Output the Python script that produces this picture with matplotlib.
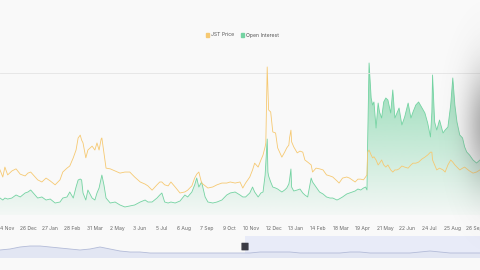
import numpy as np
import pandas as pd
import matplotlib.pyplot as plt
from matplotlib.patches import Patch, FancyBboxPatch

plt.rcParams['font.family'] = ['Inter', 'DejaVu Sans']

# days after the first point, JST price (USD) and open interest (M)
start = '2023-11-16'
day = [0, 4, 7, 11, 17, 23, 29, 36, 40, 44, 49, 54, 60, 66, 72, 79, 86, 90, 96, 100,
       105, 109, 112, 115, 117, 119, 123, 126, 132, 136, 139, 142, 145, 146, 149, 152, 158, 165, 172, 179,
       186, 193, 201, 208, 212, 218, 225, 229, 232, 236, 241, 245, 251, 258, 265, 269, 275, 279, 282, 285,
       289, 294, 298, 305, 311, 318, 325, 330, 337, 344, 348, 352, 358, 362, 365, 370, 374, 377, 380, 381,
       383, 384, 385, 388, 391, 395, 398, 404, 408, 411, 414, 415, 417, 418, 421, 426, 430, 434, 437, 441,
       446, 448, 453, 458, 463, 468, 473, 477, 483, 486, 491, 497, 501, 509, 513, 517, 521, 524, 526, 527,
       529, 532, 534, 536, 539, 542, 544, 547, 550, 553, 556, 560, 563, 566, 569, 572, 576, 580, 585, 589,
       592, 596, 600, 605, 609, 613, 617, 619, 620, 623, 626, 630, 635, 638, 642, 646, 649, 652, 655, 659,
       663, 666, 669, 673, 678, 683, 688]

price = [0.0227, 0.0207, 0.0235, 0.0213, 0.0224, 0.0230, 0.0215, 0.0210, 0.0218, 0.0221,
         0.0210, 0.0199, 0.0193, 0.0204, 0.0196, 0.0185, 0.0199, 0.0221, 0.0232, 0.0238,
         0.0261, 0.0283, 0.0317, 0.0325, 0.0311, 0.0303, 0.0261, 0.0283, 0.0294, 0.0283,
         0.0303, 0.0283, 0.0314, 0.0317, 0.0275, 0.0232, 0.0230, 0.0224, 0.0218, 0.0221,
         0.0221, 0.0207, 0.0193, 0.0187, 0.0182, 0.0170, 0.0185, 0.0193, 0.0193, 0.0185,
         0.0182, 0.0193, 0.0179, 0.0162, 0.0165, 0.0170, 0.0182, 0.0204, 0.0215, 0.0221,
         0.0190, 0.0182, 0.0176, 0.0179, 0.0185, 0.0190, 0.0190, 0.0193, 0.0190, 0.0193,
         0.0176, 0.0190, 0.0207, 0.0227, 0.0246, 0.0235, 0.0255, 0.0269, 0.0292, 0.0303,
         0.0517, 0.0452, 0.0396, 0.0390, 0.0334, 0.0331, 0.0289, 0.0263, 0.0277, 0.0289,
         0.0297, 0.0317, 0.0339, 0.0306, 0.0292, 0.0275, 0.0280, 0.0277, 0.0255, 0.0249,
         0.0241, 0.0221, 0.0232, 0.0230, 0.0227, 0.0213, 0.0210, 0.0207, 0.0196, 0.0190,
         0.0204, 0.0207, 0.0204, 0.0193, 0.0201, 0.0201, 0.0199, 0.0207, 0.0213, 0.0277,
         0.0283, 0.0269, 0.0261, 0.0264, 0.0255, 0.0241, 0.0246, 0.0255, 0.0241, 0.0235,
         0.0241, 0.0227, 0.0221, 0.0227, 0.0227, 0.0230, 0.0238, 0.0235, 0.0232, 0.0241,
         0.0246, 0.0246, 0.0249, 0.0258, 0.0263, 0.0269, 0.0277, 0.0277, 0.0255, 0.0241,
         0.0227, 0.0232, 0.0227, 0.0221, 0.0241, 0.0255, 0.0249, 0.0241, 0.0235, 0.0227,
         0.0232, 0.0235, 0.0230, 0.0224, 0.0218, 0.0221, 0.0227]

oi = [2.39, 2.11, 2.39, 2.25, 2.39, 2.82, 2.54, 3.10, 3.24, 3.52,
      2.96, 2.39, 2.54, 2.11, 2.25, 1.69, 1.83, 2.39, 2.54, 3.24,
      2.39, 3.94, 4.93, 5.07, 4.93, 3.10, 2.11, 3.52, 2.39, 2.11,
      3.10, 3.80, 5.21, 5.63, 4.23, 2.39, 1.69, 1.83, 1.41, 1.13,
      1.27, 1.41, 1.83, 2.11, 1.83, 1.83, 2.39, 2.82, 3.10, 1.83,
      1.69, 1.83, 1.69, 1.97, 2.82, 2.54, 3.24, 4.23, 5.21, 3.94,
      4.65, 2.54, 1.83, 1.69, 1.83, 2.11, 2.82, 3.10, 3.24, 2.82,
      2.54, 2.54, 3.10, 3.94, 3.24, 2.54, 3.10, 3.24, 5.63, 7.32,
      10.70, 6.06, 5.49, 4.65, 3.94, 3.80, 3.66, 3.24, 3.52, 3.80,
      4.37, 4.93, 6.48, 3.94, 3.38, 3.52, 3.66, 3.10, 2.82, 2.54,
      5.21, 4.65, 3.94, 3.24, 2.96, 2.54, 2.39, 2.39, 2.11, 2.25,
      2.54, 2.96, 3.10, 3.38, 3.66, 3.52, 3.80, 3.94, 3.52, 10.56,
      21.41, 16.48, 15.49, 15.92, 12.25, 15.77, 14.51, 13.66, 15.92, 16.48,
      16.20, 14.37, 17.61, 13.66, 14.37, 15.07, 12.68, 13.80, 15.77, 13.66,
      14.51, 15.49, 15.92, 15.07, 14.37, 12.96, 10.99, 14.51, 19.72, 13.10,
      11.97, 13.38, 11.55, 11.97, 12.39, 15.49, 19.30, 15.49, 13.10, 11.27,
      10.85, 9.58, 8.87, 8.45, 7.75, 7.32, 7.75]

tick_dates = ['2023-11-24', '2023-12-26', '2024-01-27', '2024-02-28', '2024-03-31', '2024-05-02',
              '2024-06-03', '2024-07-05', '2024-08-06', '2024-09-07', '2024-10-09', '2024-11-10',
              '2024-12-12', '2025-01-13', '2025-02-14', '2025-03-18', '2025-04-19', '2025-05-21',
              '2025-06-22', '2025-07-24', '2025-08-25', '2025-09-26']
tick_labels = ['24 Nov', '26 Dec', '27 Jan', '28 Feb', '31 Mar', '2 May', '3 Jun', '5 Jul', '6 Aug',
               '7 Sep', '9 Oct', '10 Nov', '12 Dec', '13 Jan', '14 Feb', '18 Mar', '19 Apr', '21 May',
               '22 Jun', '24 Jul', '25 Aug', '26 Sep']

# overview strip (data zoom)
overview = [8, 9, 11, 12, 12, 11, 10, 9, 8, 9, 11, 9, 7, 6, 6, 5, 5, 5, 5, 5, 5, 5, 5, 5, 5,
            5, 6, 6, 6, 6, 5, 5, 5, 5, 5, 6, 6, 5, 5, 5, 5, 5, 6, 7, 6, 5, 5, 5, 5]

dates = pd.Timestamp(start) + pd.to_timedelta(day, unit='D')

bg = '#f9f9f9'
yellow = '#f6c972'
green = '#74d3a2'

fig = plt.figure(figsize=(4.8, 2.7), dpi=100, facecolor=bg)
ax = fig.add_axes([0, 1 - 215 / 270, 1, 165 / 270], facecolor=bg)
ax2 = ax.twinx()
ax2.patch.set_visible(False)

# open interest with vertical gradient
ax.set_ylim(0, 23.24)
ax.set_xlim(dates[0], dates[-1])
poly = ax.fill_between(dates, oi, 0, color='none', lw=0)
grad = np.zeros((256, 1, 4))
grad[:, 0, :3] = np.array([108, 207, 155]) / 255
grad[:, 0, 3] = np.linspace(0.8, 0.04, 256)
x0, x1 = ax.get_xlim()
img = ax.imshow(grad, aspect='auto', extent=[x0, x1, 0, 23.24], origin='upper', zorder=1)
img.set_clip_path(poly.get_paths()[0], transform=ax.transData)
ax.plot(dates, oi, color=green, lw=0.6, zorder=2)

# price
ax2.plot(dates, price, color=yellow, lw=0.6)
ax2.set_ylim(0.01, 0.05648)
ax2.set_yticks([0.05])
ax2.yaxis.grid(True, color='#e4e4e4', lw=0.6)
ax2.tick_params(axis='y', length=0, labelright=False)
ax.set_yticks([])

ax.set_xticks(pd.to_datetime(tick_dates))
ax.set_xticklabels(tick_labels)
ax.tick_params(axis='x', length=0, pad=8, labelsize=3.6, labelcolor='#666666')
ax.set_xlim(x0, x1)
for a in (ax, ax2):
    for s in a.spines.values():
        s.set_visible(False)

fig.legend(handles=[Patch(color=yellow, label='JST Price'), Patch(color=green, label='Open Interest')],
           loc='center', bbox_to_anchor=(0.505, 1 - 35 / 270), ncol=2, frameon=False,
           fontsize=3.7, labelcolor='#555555', handlelength=0.7, handleheight=0.7,
           handletextpad=0.4, columnspacing=1.2)

# overview slider
axs = fig.add_axes([0, 1 - 258 / 270, 1, 22 / 270], facecolor=bg)
xs = np.arange(len(overview))
axs.fill_between(xs, overview, 0, color='#e2e6f3', lw=0)
axs.plot(xs, overview, color='#b3bbd8', lw=0.6)
axs.set_xlim(0, len(overview) - 1)
axs.set_ylim(0, 22)
axs.axvspan(24.5, len(overview) - 1, color='#e4e8f8', alpha=0.8, lw=0, zorder=0)
axs.add_patch(FancyBboxPatch((245 / 480 - 0.004, 0.38), 0.008, 0.28, boxstyle='round,pad=0.002',
                             transform=axs.transAxes, color='#3a3b44', zorder=5))
axs.axis('off')

# soft shadow at the right edge
ov = fig.add_axes([0, 0, 1, 1])
ov.axis('off')
yy, xx = np.mgrid[0:270, 0:480]
shade = np.zeros((270, 480, 4))
shade[..., :3] = 0.42
shade[..., 3] = 0.55 * np.exp(-((xx - 488) ** 2 / (2 * 16 ** 2) + (yy - 125) ** 2 / (2 * 40 ** 2)))
ov.imshow(shade, extent=[0, 480, 270, 0], aspect='auto')
ov.set_xlim(0, 480)
ov.set_ylim(270, 0)

fig.savefig('out.png', dpi=100, facecolor=bg)
